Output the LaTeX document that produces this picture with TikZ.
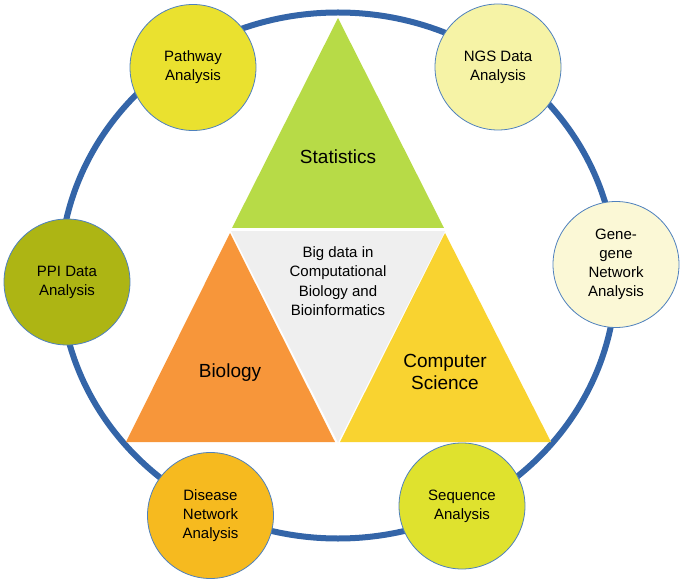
\documentclass[tikz,border=0pt]{standalone}
\usepackage{fontspec}
\setmainfont{Liberation Sans}
\begin{document}
\begin{tikzpicture}[x=1pt,y=-1pt,
  bubble/.style={circle,draw=bordblue,line width=0.8pt,minimum size=126pt,inner sep=0pt,align=center,font=\fontsize{15}{19}\selectfont},
  tri/.style={draw=white,line width=1pt},
  biglabel/.style={align=center,font=\fontsize{19}{22}\selectfont},
  midlabel/.style={align=center,font=\fontsize{15}{19.5}\selectfont}]
\definecolor{ringblue}{HTML}{3465A8}
\definecolor{bordblue}{HTML}{4F81BD}
\definecolor{statgreen}{HTML}{B7DB47}
\definecolor{midgray}{HTML}{EFEFEF}
\definecolor{bioorange}{HTML}{F7963A}
\definecolor{csyellow}{HTML}{F9D330}
\definecolor{cPath}{HTML}{EAE12F}
\definecolor{cNGS}{HTML}{F6F3A6}
\definecolor{cPPI}{HTML}{ADB514}
\definecolor{cGene}{HTML}{FBF8D6}
\definecolor{cDis}{HTML}{F6BA1F}
\definecolor{cSeq}{HTML}{DFE22E}
\useasboundingbox (0,0) rectangle (685,585);
% ring
\draw[ringblue,line width=6pt] (338,275.5) ellipse [x radius=278, y radius=263];
% triangles
\fill[statgreen] (338,18) -- (444,228) -- (232,228) -- cycle;
\filldraw[fill=midgray,tri] (230,230.5) -- (446,230.5) -- (338,444) -- cycle;
\fill[bioorange] (230,233) -- (335,442) -- (126,442) -- cycle;
\fill[csyellow] (445,233) -- (551,442) -- (340,442) -- cycle;
% triangle labels
\node[biglabel] (stat) at (338,157) {Statistics};
\node[midlabel] (big) at (338,281) {Big data in\\Computational\\Biology and\\Bioinformatics};
\node[biglabel] (bio) at (230,373) {Biology};
\node[biglabel] (cs) at (445,372) {Computer\\Science};
% bubbles
\node[bubble,fill=cPath] (path) at (193,67.5) {Pathway\\Analysis};
\node[bubble,fill=cNGS] (ngs) at (498,67) {NGS Data\\Analysis};
\node[bubble,fill=cPPI] (ppi) at (67,282) {PPI Data\\Analysis};
\node[bubble,fill=cGene] (gene) at (616,264.5) {Gene-\\gene\\Network\\Analysis};
\node[bubble,fill=cDis] (dis) at (210.5,515.5) {Disease\\Network\\Analysis};
\node[bubble,fill=cSeq] (seq) at (462,506) {Sequence\\Analysis};
\end{tikzpicture}
\end{document}
